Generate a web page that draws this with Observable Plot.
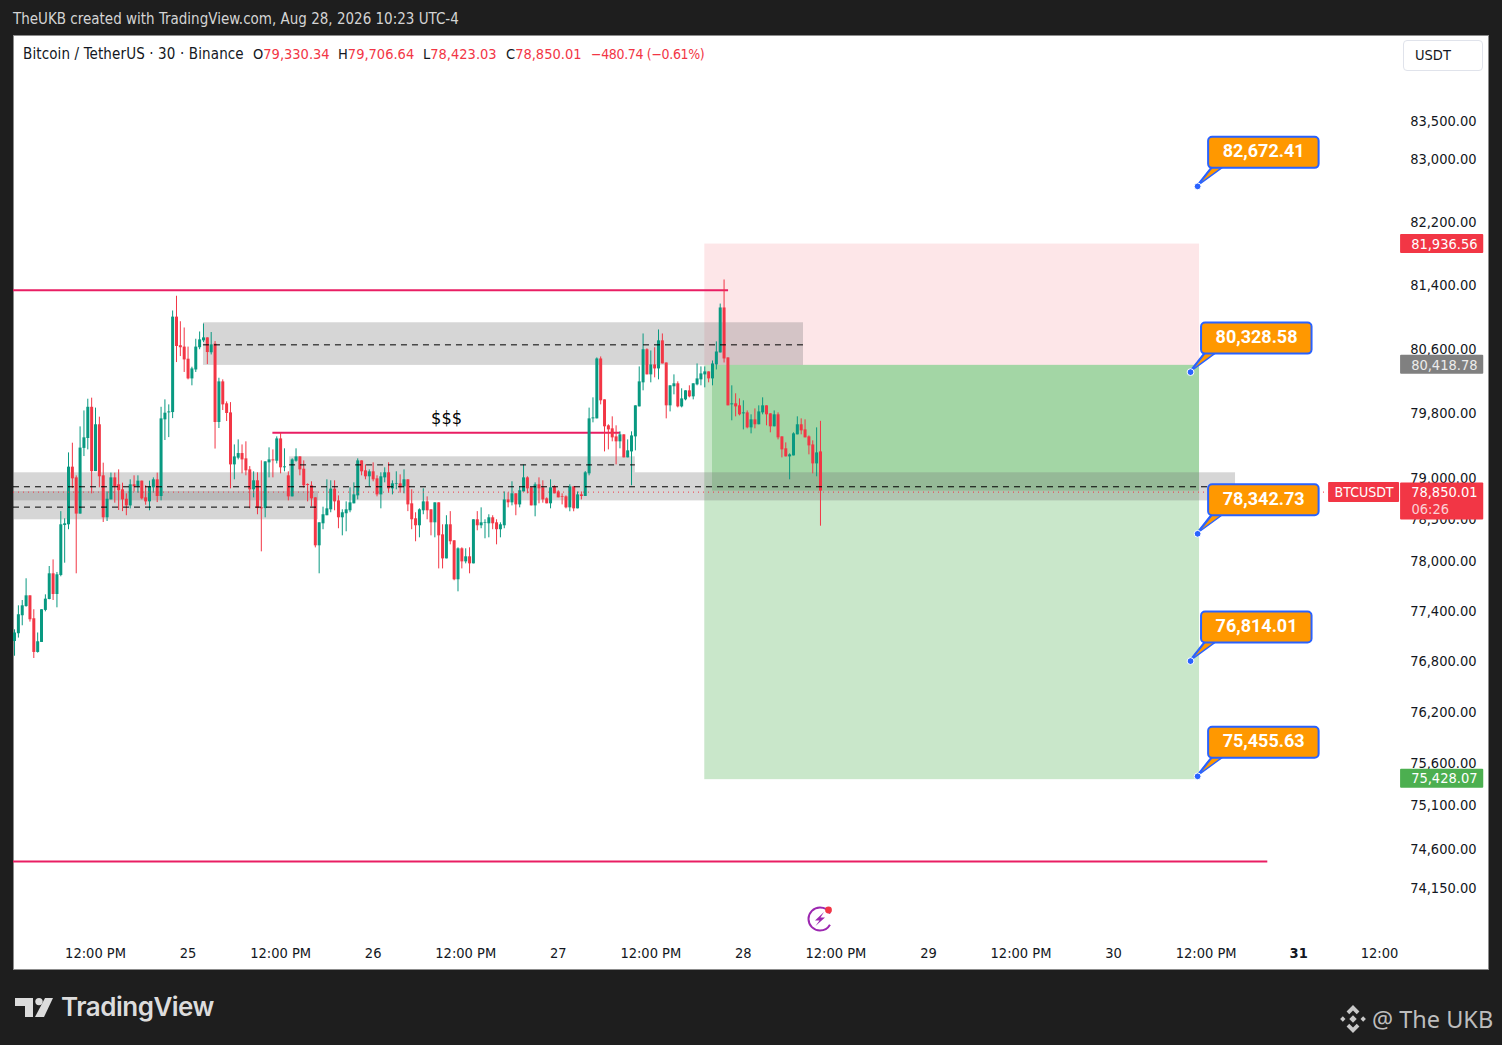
<!DOCTYPE html>
<html><head><meta charset="utf-8">
<script src="https://cdn.jsdelivr.net/npm/d3@7"></script>
<script src="https://cdn.jsdelivr.net/npm/@observablehq/plot@0.6"></script>
<style>
html,body{margin:0;padding:0;background:#1e1e1e;width:1502px;height:1045px;overflow:hidden}
#wrap{position:relative;width:1502px;height:1045px}
.abs{position:absolute;white-space:pre;font-family:"DejaVu Sans Condensed","DejaVu Sans",sans-serif}
.r{color:#f23645}
svg{display:block}
</style></head><body><div id="wrap"><div id="chart"></div></div>
<script>
const opens=[77035,77128,77343,77453,77582,77307,76905,77024,77407,77538,77847,77598,77827,78431,78440,79143,79012,78570,79373,79495,79880,79089,79664,79037,78525,78743,79012,78927,78866,78751,78670,78927,78902,78972,78768,78719,78890,78988,78784,
79725,79811,79815,81003,80645,80628,80477,80232,80343,80620,80706,80743,80557,80665,79692,80195,79923,79811,79171,79253,79310,79245,79110,78866,78976,78646,78637,79196,79232,79216,79490,79135,79037,78780,
79216,79269,79118,78931,78915,78768,78185,78452,78550,78622,78874,78731,78525,78574,78610,78695,78792,79220,79098,79025,79086,79000,78804,79012,79074,78878,78931,78939,78902,78988,78695,78513,78428,78610,78719,78622,78464,78707,
78318,78027,78440,78246,77775,78149,77991,78052,77967,78501,78428,78456,78452,78525,78464,78380,78428,78743,78707,78817,78682,78840,79012,78890,78670,78927,78890,78756,78695,78902,78840,78780,78780,78646,78902,78634,
78804,78784,79061,79737,79737,80480,79972,79651,79614,79515,79454,79540,79257,79330,79515,79885,80183,80595,80282,80406,80356,80706,80430,79898,80134,80171,79885,79972,80084,80009,
80158,80220,80282,80319,80232,80406,80555,81118,80493,79910,79923,79898,79799,79811,79626,79725,79664,79811,79898,79799,79639,79787,79515,79368,79269,79281,79540,79664,79601,79515,79416,79183,79330.34];
const highs=[77175,77462,77526,77787,77582,77415,77137,77415,77594,77935,78015,77863,78600,78513,79318,79437,79036,79638,79835,79980,79993,79870,79758,79192,78840,79070,79070,79110,78947,78817,78988,79037,79037,78972,78915,78972,79012,79070,79880,
79972,79910,81080,81265,80945,80867,80628,80377,80726,80817,80917,80743,80810,80697,80240,80220,79947,79938,79416,79478,79416,79454,79150,79086,79074,79220,79208,79380,79355,79515,79560,79368,79086,79245,
79368,79269,79220,78939,78964,78768,78464,78654,78988,78976,78976,78792,78622,78719,78890,78951,79245,79220,79171,79110,79196,79037,79074,79135,79196,78976,79086,79049,79110,78988,78866,78586,78634,78878,78780,78622,78707,78707,
78440,78550,78600,78246,78161,78161,78149,78161,78501,78600,78646,78501,78562,78550,78501,78464,78840,78829,78964,78817,78902,79171,79025,78890,78951,79012,78976,78768,78988,78915,78854,78817,78792,78927,78902,78840,
78840,79089,79870,79997,80493,80505,79972,79664,79762,79651,79577,79540,79478,79577,79898,80381,80792,80607,80580,80620,80842,80792,80430,80146,80282,80195,80109,80084,80146,80171,
80418,80381,80381,80319,80455,80693,81167,81470,80493,80146,80047,79984,79960,79835,79787,79860,79898,79997,79898,79799,79835,79811,79515,79441,79306,79565,79762,79737,79725,79527,79466,79626,79706.64];
const lows=[76860,77076,77223,77446,77267,76833,76897,77024,77390,77534,77526,77438,77811,77975,78380,78882,77847,78570,79273,79355,78817,79089,78890,78468,78480,78743,78703,78614,78600,78550,78634,78840,78825,78743,78678,78610,78825,78710,78731,
79470,79506,79740,80435,80510,80312,80220,80146,80312,80595,80685,80410,80530,79365,79618,79840,79704,78878,78988,79232,79061,79037,78634,78768,78562,78112,78525,79012,79012,79183,79061,79086,78731,78780,
79204,79037,78886,78719,78658,78160,77847,78380,78550,78586,78610,78392,78306,78355,78586,78695,78743,79037,78988,78902,78964,78780,78634,78951,78825,78804,78866,78825,78817,78600,78380,78234,78282,78562,78501,78306,78282,77906,
77906,78027,78197,77763,77630,77906,77967,77847,77967,78367,78392,78270,78282,78380,78197,78282,78392,78646,78670,78550,78646,78840,78817,78670,78537,78695,78703,78695,78634,78817,78768,78682,78634,78598,78598,78634,
78743,78784,79037,79688,79737,79910,79330,79355,79454,79171,79368,79257,79257,78915,79343,79885,80084,80282,80183,80245,80220,80418,79737,79823,80034,79873,79873,79960,79997,79972,
80146,80146,80121,80183,80146,80343,80555,80430,79898,79713,79762,79774,79601,79614,79552,79614,79664,79787,79651,79565,79639,79478,79257,79269,78988,79281,79540,79540,79503,79294,79061,79025,78423.03];
const closes=[77137,77355,77462,77582,77295,76905,77032,77415,77542,77847,77598,77835,78440,78452,79143,79000,78570,79377,79503,79880,79089,79664,79025,78525,78751,79012,78906,78854,78743,78670,78927,78902,78972,78756,78719,78899,78988,78784,79737,
79807,79823,81003,80635,80620,80468,80232,80356,80628,80718,80743,80560,80656,79692,80195,79910,79803,79171,79269,79310,79232,79098,78866,78976,78637,78634,79208,79232,79220,79490,79135,79147,78780,79232,
79269,79110,78915,78919,78756,78185,78464,78562,78634,78874,78719,78525,78586,78622,78707,78804,79220,79086,79025,79086,78988,78804,79025,79074,78878,78939,78939,78890,78988,78682,78501,78428,78622,78719,78610,78464,78707,78306,
78027,78440,78234,77775,78149,77991,78052,77967,78501,78428,78464,78464,78525,78452,78380,78440,78743,78707,78817,78682,78854,79012,78878,78670,78927,78878,78743,78695,78890,78817,78768,78772,78646,78902,78634,78804,
78784,79074,79737,79749,80480,79960,79639,79601,79503,79454,79540,79257,79343,79527,79898,80195,80595,80282,80406,80356,80706,80418,79898,80146,80171,79885,79984,80084,80009,80171,
80232,80294,80319,80232,80418,80567,81118,80480,79898,79923,79885,79787,79811,79626,79725,79664,79823,79898,79787,79639,79787,79503,79355,79269,79294,79552,79664,79589,79503,79404,79183,79318,78850.01];
const firstCandleOffset=-45; // half-hour bars counted from 25 Aug 00:00
const start=Date.UTC(2026,7,25);
const d=s=>new Date(s+"Z");

const priceTicks=[83500,83000,82200,81400,80600,79800,79000,78500,78000,77400,76800,76200,75600,75100,74600,74150];
const timeTicks=[["2026-08-24T12:00","12:00 PM"],["2026-08-25T00:00","25"],["2026-08-25T12:00","12:00 PM"],["2026-08-26T00:00","26"],["2026-08-26T12:00","12:00 PM"],["2026-08-27T00:00","27"],["2026-08-27T12:00","12:00 PM"],["2026-08-28T00:00","28"],["2026-08-28T12:00","12:00 PM"],["2026-08-29T00:00","29"],["2026-08-29T12:00","12:00 PM"],["2026-08-30T00:00","30"],["2026-08-30T12:00","12:00 PM"],["2026-08-31T10:29","12:00"]];
const boldTick=[["2026-08-31T00:00","31"]];

const xStart=d("2026-08-24T01:22"),xEnd=d("2026-09-01T00:37");
const yBottom=73221,yTop=84613;

const stop=81936.56,entry=80418.78,target=75428.07,last=78850.01;
const stopEdge=81924,entryEdge=80400,targetEdge=75405;
const toolFrom=d("2026-08-27T19:00"),toolTo=d("2026-08-30T11:09"),profitFrom=d("2026-08-27T20:00");

const zones=[
 {from:"2026-08-25T02:00",to:"2026-08-28T07:48",hi:80932,lo:80400,mid:80656},
 {from:"2026-08-25T13:10",to:"2026-08-27T10:00",hi:79270,lo:79074,mid:79171},
 {from:"2026-08-24T01:22",to:"2026-08-30T15:49",hi:79074,lo:78731,mid:78903},
 {from:"2026-08-24T01:22",to:"2026-08-25T16:55",hi:78844,lo:78501,mid:78655}
];
const hLines=[
 {from:"2026-08-24T01:22",to:"2026-08-27T22:05",p:81340},
 {from:"2026-08-25T11:00",to:"2026-08-27T08:05",p:79565},
 {from:"2026-08-24T01:22",to:"2026-08-30T20:00",p:74455}
];
const callouts=[
 {t:"2026-08-30T10:54",p:82672.41},
 {t:"2026-08-30T09:59",p:80328.58},
 {t:"2026-08-30T10:54",p:78342.73},
 {t:"2026-08-30T09:59",p:76814.01},
 {t:"2026-08-30T10:54",p:75455.63}
];
const tags=[{p:stop,c:"#f23645"},{p:entry,c:"#808080"},{p:target,c:"#4caf50"}];
const tagFrom=d("2026-08-31T13:13"),tagTo=d("2026-09-01T00:00");
const symFrom=d("2026-08-31T03:53"),symTo=d("2026-08-31T13:05"),symMid=d("2026-08-31T08:29");

const candles=opens.map((o,i)=>({t:new Date(start+(i+firstCandleOffset)*1800000),o,h:highs[i],l:lows[i],c:closes[i]}));
const up=candles.filter(c=>c.c>=c.o),down=candles.filter(c=>c.c<c.o);
const green="#089981",red="#f23645",ax='"DejaVu Sans Condensed","DejaVu Sans",sans-serif',fmt=d3.format(",.2f");
const cs=callouts.map(c=>({...c,t:d(c.t)}));
const zs=zones.map(z=>({...z,from:d(z.from),to:d(z.to)}));
const ls=hLines.map(l=>({...l,from:d(l.from),to:d(l.to)}));

const wedges=(index,{x,y})=>{
 const g=d3.create("svg:g");
 for(const c of cs){
  const a=x(c.t),b=y(c.p)+1;
  g.append("path").attr("d",`M${a},${b}L${a+15},${b-19}L${a+26},${b-19}Z`).attr("fill","#ff9800").attr("stroke","#2962ff").attr("stroke-width",1.4);
  g.append("line").attr("x1",a).attr("y1",b).attr("x2",a+15).attr("y2",b-19).attr("stroke","#2962ff").attr("stroke-width",2.2);
 }
 return g.node();
};

const chart=Plot.plot({
 width:1502,height:1045,marginLeft:13,marginRight:14,marginTop:35,marginBottom:76,
 style:{background:"transparent",overflow:"visible"},
 x:{type:"utc",domain:[xStart,xEnd],axis:null},
 y:{type:"log",domain:[yBottom,yTop],axis:null},
 marks:[
  Plot.frame({fill:"#fff",stroke:"#8c8c8c"}),
  Plot.rect([0],{x1:toolFrom,x2:toolTo,y1:stopEdge,y2:entryEdge,fill:"#f23645",fillOpacity:.125}),
  Plot.rect([0],{x1:toolFrom,x2:toolTo,y1:entryEdge,y2:targetEdge,fill:"#4caf50",fillOpacity:.3}),
  Plot.rect([0],{x1:profitFrom,x2:toolTo,y1:entryEdge,y2:last,fill:"#4caf50",fillOpacity:.3}),
  Plot.rect(zs,{x1:"from",x2:"to",y1:"lo",y2:"hi",fill:"#787878",fillOpacity:.3}),
  Plot.ruleY(ls,{x1:"from",x2:"to",y:"p",stroke:"#e91e63",strokeWidth:2}),
  Plot.ruleX(up,{x:"t",y1:"l",y2:"h",stroke:green,strokeWidth:1}),
  Plot.ruleX(down,{x:"t",y1:"l",y2:"h",stroke:red,strokeWidth:1}),
  Plot.ruleX(up,{x:"t",y1:"o",y2:"c",stroke:green,strokeWidth:3}),
  Plot.ruleX(down,{x:"t",y1:"o",y2:"c",stroke:red,strokeWidth:3}),
  Plot.ruleY(zs,{x1:"from",x2:"to",y:"mid",stroke:"#000",strokeWidth:1,strokeDasharray:"6 5"}),
  Plot.ruleY([last],{x1:xStart,x2:tagFrom,dy:1,stroke:red,strokeWidth:1,strokeDasharray:"1 4"}),
  Plot.text(["$$$"],{x:d("2026-08-26T09:31"),y:79565,text:d=>d,dy:-15,fontSize:18,fill:"#000",fontFamily:ax}),
  wedges,
  Plot.rect(cs,{x1:"t",x2:"t",y1:"p",y2:"p",insetLeft:11,insetRight:-121.5,insetTop:-48,insetBottom:17,rx:4,fill:"#ff9800",stroke:"#2962ff",strokeWidth:2}),
  Plot.dot(cs,{x:"t",y:"p",dy:1,r:3.4,fill:"#2962ff",stroke:"#fff",strokeWidth:1}),
  Plot.text(cs,{x:"t",y:"p",text:c=>fmt(c.p),dx:66,dy:-34,fill:"#fff",fontSize:18,fontWeight:700,fontFamily:"Roboto,sans-serif",style:{letterSpacing:".25px"}}),
  Plot.axisY(priceTicks,{anchor:"right",tickSize:0,textAnchor:"end",dx:-21,tickFormat:fmt,fontSize:14.5,fontFamily:ax,fill:"#131722",label:null}),
  Plot.text(timeTicks,{x:t=>d(t[0]),text:t=>t[1],frameAnchor:"bottom",dy:-12,fontSize:14.5,fontFamily:ax,fill:"#131722"}),
  Plot.text(boldTick,{x:t=>d(t[0]),text:t=>t[1],frameAnchor:"bottom",dy:-12,fontSize:14.5,fontWeight:700,fontFamily:ax,fill:"#131722"}),
  Plot.rect(tags,{x1:tagFrom,x2:tagTo,y1:"p",y2:"p",insetTop:-8.5,insetBottom:-10.5,rx:1,fill:"c"}),
  Plot.text(tags,{frameAnchor:"right",dx:-11,dy:1,y:"p",text:t=>fmt(t.p),textAnchor:"end",fontSize:14.5,fontFamily:ax,fill:t=>t.c==="#808080"?"#ececec":"#fff"}),
  Plot.rect([last],{x1:symFrom,x2:symTo,y1:d=>d,y2:d=>d,insetTop:-8.5,insetBottom:-11.5,rx:1,fill:red}),
  Plot.text(["BTCUSDT"],{x:symMid,y:last,dy:1,text:d=>d,fontSize:14,fontFamily:ax,fill:"#fff"}),
  Plot.rect([last],{x1:tagFrom,x2:tagTo,y1:d=>d,y2:d=>d,insetTop:-8,insetBottom:-29,rx:1,fill:red}),
  Plot.text([last],{frameAnchor:"right",dx:-11,dy:1,y:d=>d,text:d=>fmt(d),textAnchor:"end",fontSize:14.5,fontFamily:ax,fill:"#fff"}),
  Plot.text(["06:26"],{frameAnchor:"right",dx:-77,y:last,dy:18.5,text:d=>d,textAnchor:"start",fontSize:14.5,fontFamily:ax,fill:"#fbd0d4"})
 ]
});
const wrap=document.getElementById("wrap");
document.getElementById("chart").appendChild(chart);
const add=(x,y,html,css)=>{const e=document.createElement("div");e.className="abs";e.style.cssText=`left:${x}px;top:${y}px;${css||""}`;e.innerHTML=html;wrap.appendChild(e);return e};
add(13,11,"TheUKB created with TradingView.com, Aug 28, 2026 10:23 UTC-4","color:#d4d4d4;font-size:15px;line-height:17px");
const L="color:#131722;font-size:14.5px;line-height:17px";
add(23,46,"Bitcoin / TetherUS · 30 · Binance","color:#131722;font-size:15px;line-height:17px;letter-spacing:.13px");
add(253,46,'O<span class="r">79,330.34</span>',L);
add(338,46,'H<span class="r">79,706.64</span>',L);
add(423,46,'L<span class="r">78,423.03</span>',L);
add(506,46,'C<span class="r">78,850.01</span>',L);
add(591,46,'<span class="r">−480.74 (−0.61%)</span>',"font-size:14px;line-height:17px;letter-spacing:-.35px");
add(1403,40,"USDT","box-sizing:border-box;width:80px;height:31px;border:1px solid #e0e3eb;border-radius:4px;padding:6px 0 0 11px;color:#131722;font-size:14.5px;line-height:17px;background:#fff");
add(804,903,`<svg width="32" height="32" viewBox="0 0 32 32"><circle cx="16" cy="16" r="11.5" fill="none" stroke="#9c27b0" stroke-width="2" stroke-dasharray="60 12" stroke-dashoffset="-6"/><path d="M20 9 L11 17.5 L15.5 17.5 L11.5 23 L21 14.5 L16.5 14.5 Z" fill="#9c27b0"/><circle cx="24.5" cy="7" r="3.4" fill="#f23645"/></svg>`);
add(13,995,`<svg width="42" height="26" viewBox="0 0 42 26"><path d="M2 3H20V22H12V11H2Z" fill="#dcdcdc"/><circle cx="26" cy="6.6" r="3.7" fill="#dcdcdc"/><path d="M32 3H40L31 22H22Z" fill="#dcdcdc"/></svg>`);
add(61,990,"TradingView",'font-family:Inter,sans-serif;font-weight:600;font-size:26px;letter-spacing:-.5px;line-height:34px;color:#dcdcdc');
add(1338,1004,`<svg width="30" height="30" viewBox="0 0 28 28" fill="#c8c8c8"><path d="M14 1L20 7L17.5 9.5L14 6L10.5 9.5L8 7Z"/><path d="M14 27L8 21L10.5 18.5L14 22L17.5 18.5L20 21Z"/><path d="M14 10.5L17.5 14L14 17.5L10.5 14Z"/><path d="M4.5 11.5L7 14L4.5 16.5L2 14Z"/><path d="M23.5 11.5L26 14L23.5 16.5L21 14Z"/></svg>`);
add(1372,1003,"@ The UKB",'font-family:"Noto Sans",sans-serif;font-size:23.5px;line-height:32px;color:#bdbdbd');
</script></body></html>
